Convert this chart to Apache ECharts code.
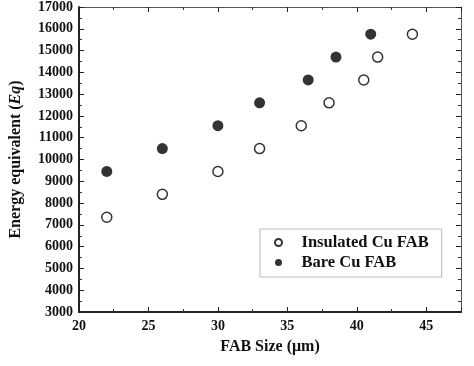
<!DOCTYPE html>
<html>
<head>
<meta charset="utf-8">
<script src="https://cdn.jsdelivr.net/npm/echarts@6/dist/echarts.min.js"></script>
<style>html,body{margin:0;padding:0;background:#fff;}#c{width:474px;height:366px;}</style>
</head>
<body>
<div id="c"></div>
<script>
const insulatedX = [22, 26, 30, 33, 36, 38, 40.5, 41.5, 44];
const insulatedY = [7350, 8400, 9450, 10500, 11550, 12600, 13650, 14700, 15750];
const bareX = [22, 26, 30, 33, 36.5, 38.5, 41];
const bareY = [9450, 10500, 11550, 12600, 13650, 14700, 15750];
const seriesNames = ['Insulated Cu FAB', 'Bare Cu FAB'];

const FONT = '"Liberation Serif", "Times New Roman", serif';
const chart = echarts.init(document.getElementById('c'));
const grid = {left: 79, right: 13, top: 5, bottom: 54};
const lbl = {fontFamily: FONT, fontWeight: 'bold', fontSize: 14, color: '#111'};
function axisBase(extra) {
  return Object.assign({
    splitLine: {show: false},
    axisTick: {inside: true, length: 5, lineStyle: {color: '#222', width: 1}},
    minorTick: {show: true, splitNumber: 2, length: 3, lineStyle: {color: '#333', width: 1}},
  }, extra);
}
chart.setOption({
  animation: false,
  backgroundColor: '#fff',
  grid: grid,
  xAxis: [
    axisBase({type: 'value', position: 'bottom', min: 20, max: 47.5, interval: 5,
      axisLine: {lineStyle: {color: '#222', width: 2}},
      axisLabel: Object.assign({margin: 7, showMaxLabel: false, formatter: v => String(v)}, lbl),
      name: 'FAB Size (\u03bcm)', nameLocation: 'middle', nameGap: 27,
      nameTextStyle: {fontFamily: FONT, fontWeight: 'bold', fontSize: 16, color: '#111'}}),
    axisBase({type: 'value', position: 'top', min: 20, max: 47.5, interval: 5,
      axisLine: {lineStyle: {color: '#555', width: 1}},
      axisLabel: {show: false}})
  ],
  yAxis: [
    axisBase({type: 'value', position: 'left', min: 3000, max: 17000, interval: 1000,
      axisLine: {show: true, lineStyle: {color: '#222', width: 2}},
      axisLabel: Object.assign({margin: 6, formatter: v => String(v)}, lbl),
      name: 'Energy equivalent ({i|Eq})', nameLocation: 'middle', nameGap: 55,
      nameTextStyle: {fontFamily: FONT, fontWeight: 'bold', fontSize: 16, color: '#111',
        rich: {i: {fontFamily: FONT, fontWeight: 'bold', fontStyle: 'italic', fontSize: 16, color: '#111'}}}}),
    axisBase({type: 'value', position: 'right', min: 3000, max: 17000, interval: 1000,
      axisLine: {show: true, lineStyle: {color: '#555', width: 1}},
      axisLabel: {show: false}})
  ],
  legend: {
    orient: 'vertical', left: 260, top: 229,
    padding: [5, 13, 6, 14], itemGap: 3,
    itemWidth: 36, itemHeight: 7,
    backgroundColor: '#fff', borderColor: '#bbb', borderWidth: 1,
    textStyle: {fontFamily: FONT, fontWeight: 'bold', fontSize: 16.5, color: '#111'},
    data: seriesNames
  },
  series: [
    {name: seriesNames[0], type: 'scatter', symbol: 'circle', symbolSize: 10,
      itemStyle: {color: '#fff', borderColor: '#000', borderWidth: 1.5},
      data: insulatedX.map((x, i) => [x, insulatedY[i]])},
    {name: seriesNames[1], type: 'scatter', symbol: 'circle', symbolSize: 11,
      itemStyle: {color: '#000', borderColor: '#000', borderWidth: 0},
      data: bareX.map((x, i) => [x, bareY[i]])}
  ]
});
</script>
</body>
</html>
